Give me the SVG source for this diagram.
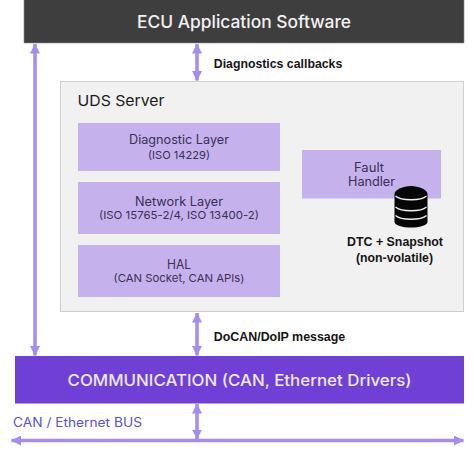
<svg xmlns="http://www.w3.org/2000/svg" width="474" height="451" viewBox="0 0 474 451">
<style>
text{font-family:"Inter","Noto Sans",sans-serif;text-anchor:middle}
.b{font-family:"Liberation Sans",Arial,sans-serif;font-weight:700;fill:#151515;font-size:12px}
.t{font-size:12.500px;fill:#3a2f55}
.s{font-size:11px;fill:#3a2f55}
.layer{fill:#c5b2ec}
.c{stroke:#a68cf2;stroke-width:3.500;fill:none;marker-start:url(#a);marker-end:url(#a)}
</style>
<defs><marker id="a" viewBox="0 0 10 10" refX="9.500" refY="5" markerUnits="userSpaceOnUse" markerWidth="10" markerHeight="10" orient="auto-start-reverse"><path d="M0 0L10 5L0 10Z" fill="#a68cf2"/></marker></defs>
<g id="ecu-app"><rect x="24" y="-1" width="440" height="44" fill="#3f3e3e" stroke="#8a8a8a" stroke-width=".6"/><text x="244" y="28" font-size="17" font-weight="500" fill="#f2f2f2" textLength="214" lengthAdjust="spacingAndGlyphs">ECU Application Software</text></g>
<g id="uds-server"><rect x="60.500" y="81.500" width="403" height="230" fill="#f1f1f1" stroke="#cfcfcf"/><text x="121" y="106" font-size="15" fill="#1c1c1c" textLength="87" lengthAdjust="spacingAndGlyphs">UDS Server</text></g>
<g id="diagnostic-layer"><rect class="layer" x="78" y="123" width="202" height="48"/><text class="t" x="179" y="144" textLength="100" lengthAdjust="spacingAndGlyphs">Diagnostic Layer</text><text class="s" x="179" y="159" textLength="62" lengthAdjust="spacingAndGlyphs">(ISO 14229)</text></g>
<g id="network-layer"><rect class="layer" x="78" y="182" width="202" height="52"/><text class="t" x="179" y="206" textLength="88" lengthAdjust="spacingAndGlyphs">Network Layer</text><text class="s" x="179" y="219" textLength="160" lengthAdjust="spacingAndGlyphs">(ISO 15765-2/4, ISO 13400-2)</text></g>
<g id="hal"><rect class="layer" x="78" y="245" width="202" height="52"/><text class="t" x="179" y="269" textLength="24" lengthAdjust="spacingAndGlyphs">HAL</text><text class="s" x="179" y="282" textLength="131" lengthAdjust="spacingAndGlyphs">(CAN Socket, CAN APIs)</text></g>
<g id="fault-handler"><rect class="layer" x="302" y="150" width="139" height="48.500"/><text class="t" x="369" y="172" textLength="30" lengthAdjust="spacingAndGlyphs">Fault</text><text class="t" x="371.500" y="186" textLength="47" lengthAdjust="spacingAndGlyphs">Handler</text></g>
<g id="dtc-store">
<path d="M394.500 194C394.500 190 403 186 411 186C419 186 427.500 190 427.500 194V222C427.500 225.500 419 227.500 411 227.500C403 227.500 394.500 225.500 394.500 222Z" fill="#060606"/>
<path d="M395.500 196C401 201 421 201 426.500 196M395.500 207C401 212 421 212 426.500 207M395.500 215.500C401 220.500 421 220.500 426.500 215.500" fill="none" stroke="#f1f1f1" stroke-width="1.300"/>
<text class="b" x="395" y="246" textLength="96" lengthAdjust="spacingAndGlyphs">DTC + Snapshot</text><text class="b" x="394.500" y="262" textLength="77" lengthAdjust="spacingAndGlyphs">(non-volatile)</text></g>
<g id="communication"><rect x="15" y="356" width="449" height="47.500" fill="#6f3fd6"/><text x="239.500" y="386" font-size="16" font-weight="500" fill="#eee8fb" textLength="344" lengthAdjust="spacingAndGlyphs">COMMUNICATION (CAN, Ethernet Drivers)</text></g>
<text id="bus-label" x="77.500" y="427" font-size="12.500" fill="#5b4fe0" textLength="129" lengthAdjust="spacingAndGlyphs">CAN / Ethernet BUS</text>
<g id="connectors">
<line class="c" x1="35" y1="44" x2="35" y2="355.500"/>
<line class="c" x1="197" y1="44" x2="197" y2="80.500"/>
<line class="c" x1="197" y1="313" x2="197" y2="355.500"/>
<line class="c" x1="197" y1="404" x2="197" y2="439"/>
<line class="c" x1="11.500" y1="440.500" x2="463.500" y2="440.500"/>
</g>
<text class="b" x="278" y="68" textLength="128.500" lengthAdjust="spacingAndGlyphs">Diagnostics callbacks</text>
<text class="b" x="279.500" y="341" textLength="131.500" lengthAdjust="spacingAndGlyphs">DoCAN/DoIP message</text>
</svg>
